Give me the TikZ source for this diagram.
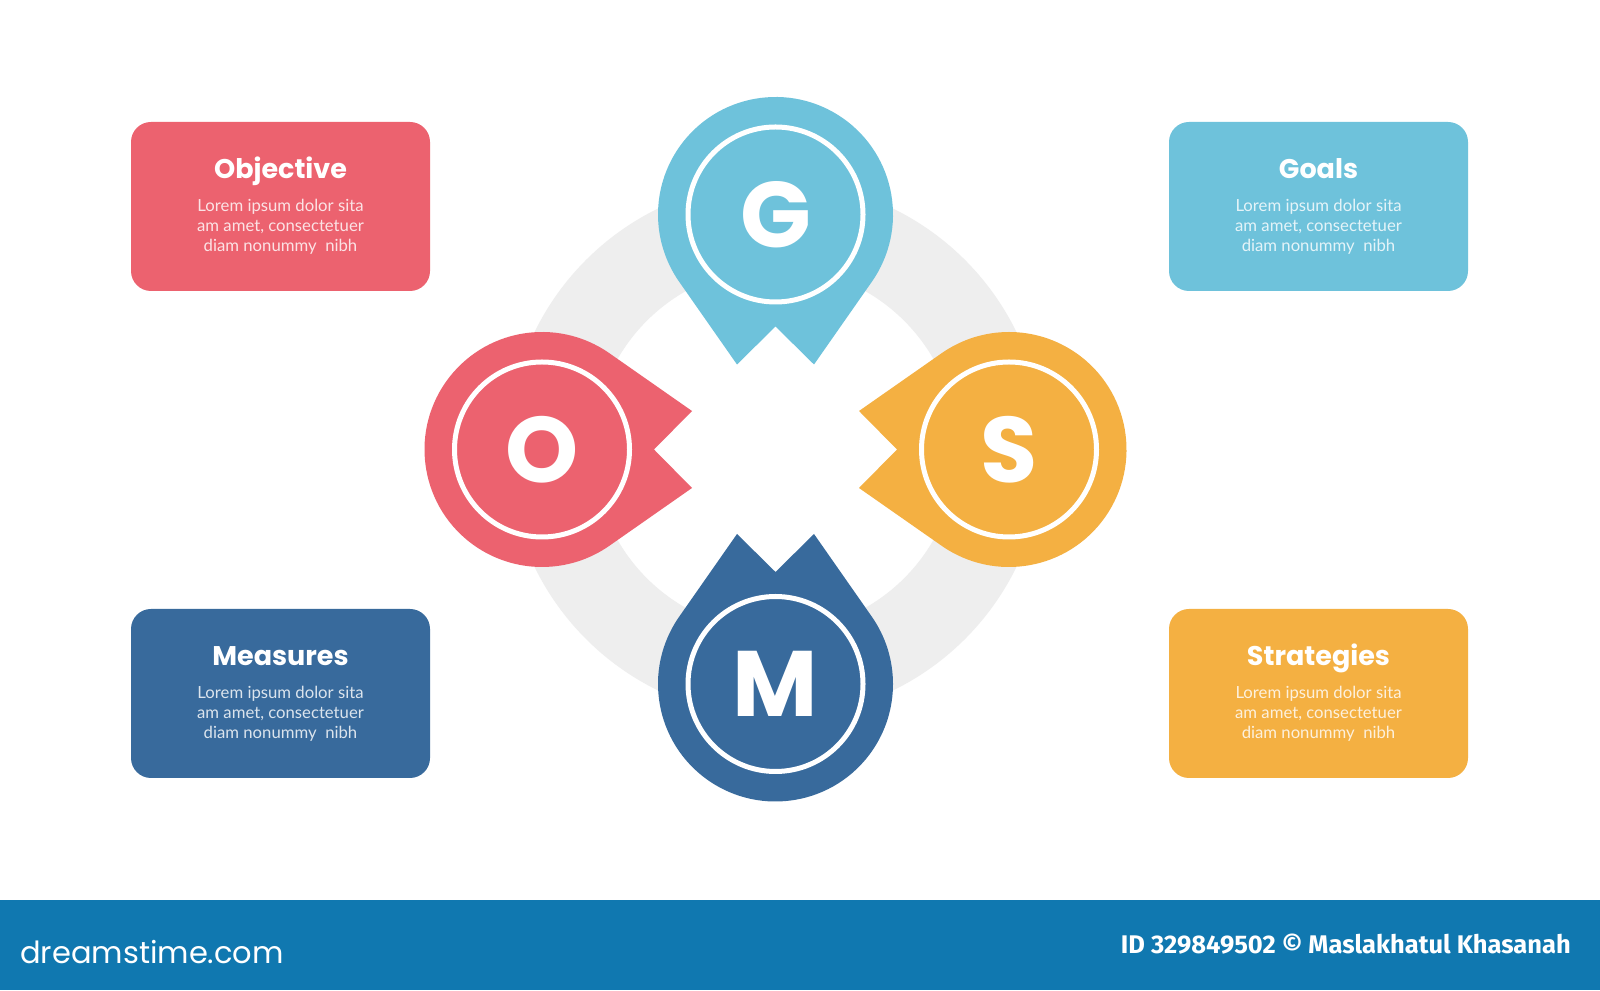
\documentclass[tikz,border=0pt]{standalone}
\usepackage{fontspec}
\setmainfont{Lato}
\newfontfamily\titlefont{Poppins}
\newfontfamily\idfont{Fira Sans}
\definecolor{cred}{RGB}{236,98,111}
\definecolor{cblue}{RGB}{110,194,219}
\definecolor{corange}{RGB}{244,176,66}
\definecolor{cnavy}{RGB}{56,106,156}
\definecolor{ringgray}{RGB}{238,238,238}
\definecolor{banner}{RGB}{16,120,176}
\tikzset{
  infobox/.style={rounded corners=20pt, minimum width=299pt, minimum height=169pt, inner sep=0pt, draw=none},
  boxtitle/.style={text=white, font=\titlefont\bfseries\fontsize{27}{27}\selectfont, anchor=base, inner sep=0pt},
  boxbody/.style={text=white, text opacity=0.82, font=\fontsize{16.7}{20}\selectfont, anchor=base, inner sep=0pt},
  letter/.style={text=white, font=\titlefont\bfseries\fontsize{93}{93}\selectfont, inner sep=0pt},
  ringline/.style={draw=white, line width=5pt}
}
\newcommand{\drawpin}[5]{%
  \begin{scope}[shift={#1}, rotate=#2]
    \fill[#3] (55:117.5pt) arc[start angle=55, end angle=305, radius=117.5pt] -- (150pt,-38.5pt) -- (112pt,0pt) -- (150pt,38.5pt) -- cycle;
    \draw[ringline] (0,0) circle[radius=87.5pt];
  \end{scope}
  \node[letter] (#5) at #1 {#4};
}
\newcommand{\infobox}[5]{%
  \node[infobox, fill=#3] (#5) at (#1, #2-84.5) {};
  \node[boxtitle] (#5t) at (#1, #2-57) {#4};
  \node[boxbody] (#5a) at (#1, #2-90) {Lorem ipsum dolor sita};
  \node[boxbody] (#5b) at (#1, #2-110) {am amet, consectetuer};
  \node[boxbody] (#5c) at (#1, #2-130) {diam nonummy\ \ nibh};
}
\begin{document}
\begin{tikzpicture}[x=1pt, y=1pt]
\useasboundingbox (0,0) rectangle (1600,990);
\fill[white] (0,0) rectangle (1600,990);
\coordinate (ctr) at (775.5,540.5);
% gray ring
\fill[ringgray, even odd rule] (ctr) circle[radius=268pt] (ctr) circle[radius=182pt];
% pins
\drawpin{(775.5,775.5)}{-90}{cblue}{G}{pinG}
\drawpin{(542,540.5)}{0}{cred}{O}{pinO}
\drawpin{(1009,540.5)}{180}{corange}{S}{pinS}
\drawpin{(775.5,306)}{90}{cnavy}{M}{pinM}
% info boxes
\infobox{280.5}{868}{cred}{Objective}{obj}
\infobox{1318.5}{868}{cblue}{Goals}{goal}
\infobox{280.5}{381}{cnavy}{Measures}{meas}
\infobox{1318.5}{381}{corange}{Strategies}{strat}
% banner
\fill[banner] (0,0) rectangle (1600,90);
\node[text=white, font=\titlefont\fontsize{30.5}{31}\selectfont, anchor=base west, inner sep=0pt] (logo) at (20,27) {dreamstime.com};
\node[text=white, font=\idfont\bfseries\fontsize{25.5}{26}\selectfont, anchor=base east, inner sep=0pt] (credit) at (1571,36) {ID 329849502 © Maslakhatul Khasanah};
\end{tikzpicture}
\end{document}
